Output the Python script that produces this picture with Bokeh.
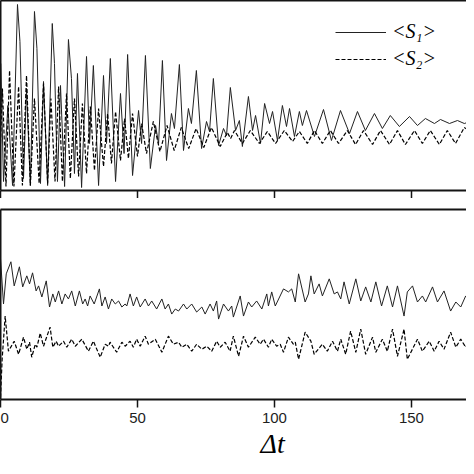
from bokeh.plotting import figure
from bokeh.models import Range1d, FixedTicker, LinearAxis, Legend, LegendItem, Title
from bokeh.layouts import column
from bokeh.core.properties import value
from bokeh.embed import file_html
from bokeh.resources import INLINE

# ---------------- data (y in arbitrary units) ----------------
# upper panel, <S1> (solid)
top_t1 = [0.1, 1.1, 2.7, 4.4, 6.2, 7.1, 8.4, 9.5, 10.9, 12.4, 13.3, 14.6, 15.7, 17.2, 18.9,
          19.7, 20.8, 21.9, 23.4, 24.8, 25.9, 27.0, 28.1, 29.6, 31.4, 32.5, 33.9, 35.8, 37.6,
          38.7, 40.1, 42.0, 43.8, 45.1, 46.4, 48.2, 50.4, 51.5, 52.9, 54.7, 56.6, 57.7, 59.1,
          60.6, 62.4, 63.5, 65.3, 66.8, 68.6, 69.7, 71.5, 73.4, 75.2, 76.3, 77.7, 79.6, 81.4,
          82.5, 83.9, 85.8, 87.2, 88.3, 90.5, 92.0, 93.1, 94.9, 96.4, 98.2, 99.3, 101.1, 102.9,
          104.4, 105.5, 107.3, 109.1, 110.2, 111.7, 114.6, 117.9, 120.8, 124.1, 127.4, 130.3,
          133.2, 136.5, 139.4, 142.3, 145.6, 149.3, 152.2, 155.1, 158.4, 160.6, 163.9, 166.8,
          169.3, 170.4]
top_s1 = [127, 9, 85, 5, 186, 149, 12, 102, 5, 179, 142, 7, 109, 5, 167,
          127, 9, 105, 4, 151, 112, 17, 117, 3, 134, 47, 125, 5, 115,
          47, 132, 9, 97, 37, 136, 15, 80, 47, 135, 22, 65, 47, 130,
          30, 77, 62, 126, 40, 82, 67, 120, 42, 69, 59, 112, 45, 62,
          55, 103, 60, 70, 44, 94, 60, 75, 47, 87, 67, 79, 50, 85,
          64, 82, 54, 79, 65, 80, 54, 81, 50, 80, 57, 79,
          60, 77, 62, 75, 64, 74, 65, 72, 67, 71, 67, 70,
          67, 68]

# upper panel, <S2> (dashed)
top_t2 = [0.0, 0.7, 2.0, 3.3, 4.9, 6.6, 8.0, 9.5, 10.9, 12.4, 14.1, 15.7, 17.2, 18.4, 19.9,
          21.2, 22.6, 24.1, 25.5, 27.0, 28.5, 29.9, 31.4, 32.8, 34.3, 35.8, 37.6, 39.1, 40.5,
          42.0, 43.8, 45.3, 46.7, 48.2, 50.0, 51.5, 53.3, 55.8, 58.2, 60.8, 63.4, 66.0, 68.7,
          71.4, 74.2, 77.0, 80.2, 82.8, 84.0, 85.4, 88.3, 91.2, 94.5, 97.4, 100.4, 103.6, 106.6,
          109.1, 112.0, 114.6, 117.5, 120.4, 123.4, 126.6, 129.6, 132.5, 135.8, 138.7, 142.0,
          144.9, 147.8, 151.1, 154.0, 156.9, 160.2, 163.1, 166.1, 169.3, 170.4]
top_s2 = [47, 102, 4, 120, 4, 104, 5, 115, 5, 92, 7, 107, 7, 92, 9,
          104, 9, 97, 12, 92, 14, 87, 17, 84, 20, 82, 24, 77, 27,
          79, 30, 72, 32, 77, 34, 67, 37, 69, 39, 65, 40, 63, 42,
          62, 43, 63, 44, 58, 52, 60, 47, 60, 47, 59, 47, 60, 49,
          59, 47, 60, 47, 60, 47, 60, 46, 60, 46, 60, 46,
          60, 46, 60, 47, 60, 46, 60, 47, 63, 61]

# lower panel, <S1> (solid)
bot_t1 = [0.0, 1.1, 2.1, 3.8, 5.0, 6.9, 8.1, 9.6, 10.6, 11.7, 13.0, 13.9, 15.1, 16.7, 17.9,
          19.1, 20.0, 21.2, 22.4, 23.6, 24.8, 26.0, 27.3, 28.8, 30.0, 30.9, 31.8, 32.7, 34.2,
          36.1, 37.0, 38.2, 39.4, 40.6, 41.9, 43.1, 44.3, 45.5, 46.1, 47.3, 48.5, 49.7, 51.0,
          52.8, 54.0, 55.2, 57.0, 58.9, 60.1, 61.3, 62.5, 63.8, 65.0, 66.8, 68.0, 69.8, 71.6,
          73.5, 74.7, 76.5, 77.7, 78.9, 79.6, 81.4, 83.2, 84.4, 85.0, 87.5, 88.7, 90.5, 91.7,
          93.5, 95.4, 97.2, 97.8, 99.0, 100.3, 103.3, 105.1, 106.3, 107.6, 108.8, 111.2, 112.4,
          113.3, 114.5, 116.3, 117.5, 120.0, 121.8, 123.0, 124.2, 125.4, 127.3, 129.7, 131.5,
          133.3, 135.2, 137.0, 139.1, 141.2, 143.1, 144.9, 147.3, 148.5, 150.4, 152.2, 154.0,
          155.2, 157.7, 159.5, 161.9, 164.3, 166.2, 168.0, 169.8, 170.4]
bot_s1 = [140, 95, 125, 137, 113, 132, 112, 123, 115, 126, 108, 113, 102, 118, 92,
          105, 97, 108, 95, 105, 100, 108, 93, 108, 95, 100, 93, 103, 95,
          110, 93, 102, 90, 100, 95, 98, 92, 95, 93, 105, 93, 102, 92,
          100, 93, 98, 90, 100, 90, 95, 85, 90, 88, 95, 90, 95, 87,
          92, 85, 95, 88, 98, 80, 95, 88, 93, 82, 103, 83, 97, 92,
          98, 90, 105, 93, 107, 93, 110, 107, 110, 97, 125, 97, 105,
          123, 105, 115, 103, 120, 105, 107, 100, 117, 95, 120, 98,
          112, 97, 117, 93, 113, 92, 113, 83, 107, 113, 97, 103,
          97, 112, 97, 108, 88, 97, 92, 103, 100]

# lower panel, <S2> (dashed)
bot_t2 = [0.0, 0.6, 1.7, 2.9, 5.0, 6.6, 8.4, 9.6, 10.6, 11.4, 12.7, 13.3, 14.5, 15.7, 18.1,
          19.1, 20.3, 21.2, 23.0, 24.2, 26.0, 27.3, 29.7, 32.1, 33.9, 36.4, 38.2, 39.4, 40.0,
          42.4, 44.3, 45.5, 47.3, 48.5, 49.7, 51.0, 52.8, 54.0, 56.5, 58.9, 61.3, 63.1, 65.0,
          66.2, 68.0, 69.8, 71.6, 73.5, 75.3, 77.1, 78.9, 80.2, 82.0, 83.8, 85.0, 86.9, 88.7,
          90.5, 93.0, 94.8, 96.0, 97.8, 99.0, 100.8, 102.1, 103.3, 105.1, 106.9, 107.6, 108.8,
          111.2, 113.3, 114.5, 117.5, 119.3, 121.2, 123.0, 124.2, 126.0, 127.8, 129.7, 131.5,
          133.3, 135.8, 137.0, 139.4, 141.2, 143.1, 144.9, 147.3, 148.5, 152.2, 154.0, 156.5,
          158.3, 160.1, 161.9, 164.3, 166.2, 168.0, 169.8, 170.4]
bot_s2 = [2, 40, 83, 48, 58, 45, 62, 50, 57, 42, 55, 52, 66, 53, 72,
          52, 58, 53, 58, 52, 60, 53, 60, 48, 58, 42, 55, 53, 57,
          47, 57, 53, 58, 52, 60, 53, 63, 55, 60, 47, 63, 55, 57,
          52, 55, 48, 55, 50, 53, 48, 58, 52, 57, 48, 63, 43, 63,
          52, 62, 55, 60, 52, 60, 53, 55, 47, 62, 55, 57, 40,
          67, 58, 45, 55, 48, 58, 48, 60, 45, 68, 47, 70,
          45, 62, 47, 60, 48, 70, 43, 70, 40, 60, 48, 58,
          48, 58, 50, 67, 52, 60, 52, 55]

X_TICKS = [0, 50, 100, 150]
X_TICK_LABELS = {0: "0", 50: "50", 100: "100", 150: "150"}
HIDDEN_LABELS = {0: "", 50: "", 100: "", 150: ""}
LEGEND_LABELS = ["<S\u2081>", "<S\u2082>"]
X_TITLE = "\u0394t"

INK = "#141414"
LINE = "#222222"
W = 466
X_END = 170.1


def bare_axis():
    return LinearAxis(ticker=FixedTicker(ticks=[], minor_ticks=[]),
                      axis_line_width=2, axis_line_color=INK,
                      major_tick_out=0, major_tick_in=0, minor_tick_out=0, minor_tick_in=0,
                      major_label_standoff=0)


def panel(height, y_max, top_gap, bottom_gap, show_labels):
    p = figure(width=W, height=height,
               x_range=Range1d(0, X_END), y_range=Range1d(0, y_max),
               output_backend="svg", toolbar_location=None,
               x_axis_location=None, y_axis_location=None,
               min_border_left=0, min_border_right=0,
               min_border_top=top_gap, min_border_bottom=bottom_gap)
    p.grid.visible = False
    p.outline_line_color = None
    p.add_layout(bare_axis(), "left")
    p.add_layout(bare_axis(), "above")
    xa = LinearAxis(ticker=FixedTicker(ticks=X_TICKS, minor_ticks=[]),
                    axis_line_width=2, axis_line_color=INK,
                    major_tick_out=8, major_tick_in=0, major_tick_line_width=1.5,
                    major_tick_line_color=INK,
                    minor_tick_out=0, minor_tick_in=0,
                    major_label_text_font="Liberation Sans",
                    major_label_text_font_size="15px",
                    major_label_text_color="#1e1e1e")
    if show_labels:
        xa.major_label_overrides = X_TICK_LABELS
        xa.major_label_standoff = 5
    else:
        xa.major_label_overrides = HIDDEN_LABELS
        xa.major_label_standoff = 0
        xa.major_label_text_font_size = "1px"
    p.add_layout(xa, "below")
    return p


top = panel(198, 190, 0, 0, False)
r1 = top.line(top_t1, top_s1, line_color=LINE, line_width=1)
r2 = top.line(top_t2, top_s2, line_color="black", line_width=1.2, line_dash="4 2")

legend = Legend(items=[LegendItem(label=value(LEGEND_LABELS[0]), renderers=[r1]),
                       LegendItem(label=value(LEGEND_LABELS[1]), renderers=[r2])],
                location=(335, 120), orientation="vertical",
                glyph_width=51, glyph_height=22, label_height=22, spacing=4,
                label_standoff=6, padding=0, margin=0,
                label_text_font="Liberation Serif", label_text_font_style="italic",
                label_text_font_size="20px", label_text_color="black",
                border_line_color=None, background_fill_alpha=0)
top.add_layout(legend, "center")

bot = panel(260, 189, 11, 0, True)
bot.line(bot_t1, bot_s1, line_color=LINE, line_width=1)
bot.line(bot_t2, bot_s2, line_color="black", line_width=1.2, line_dash="4 2")
bot.add_layout(Title(text=X_TITLE, align="left", offset=260, standoff=0,
                     vertical_align="bottom",
                     text_font="Liberation Serif", text_font_style="italic",
                     text_font_size="28px", text_color="black"), "below")

layout = column(top, bot, spacing=0)
open("out.html", "w").write(file_html(layout, INLINE))
